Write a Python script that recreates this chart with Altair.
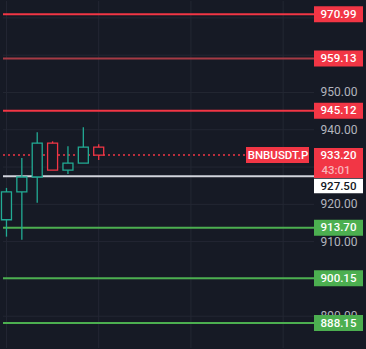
import altair as alt
import pandas as pd

# ---- data ----
candle_idx = [0, 1, 2, 3, 4, 5, 6]
opens  = [915.87, 923.33, 927.33, 936.40, 929.20, 931.07, 935.33]
highs  = [924.40, 932.40, 939.33, 936.90, 935.60, 940.67, 936.13]
lows   = [911.33, 910.53, 920.40, 929.20, 928.13, 931.07, 931.87]
closes = [923.33, 927.33, 936.40, 929.20, 931.07, 935.33, 933.20]

level_values = [970.99, 959.13, 945.12, 927.50, 913.70, 900.15, 888.15]
level_colors = ["#f23645", "#a53a45", "#f23645", "#d1d4dc", "#4caf50", "#4caf50", "#4caf50"]
box_colors   = ["#f23645", "#f23645", "#f23645", "#ffffff", "#4caf50", "#4caf50", "#4caf50"]
box_text_col = ["#ffffff", "#ffffff", "#ffffff", "#131722", "#ffffff", "#ffffff", "#ffffff"]

grid_values = [970, 960, 950, 940, 930, 920, 910, 900, 890]
tick_labels_shown = [950, 940, 920, 910, 890]
vgrid_idx = [0, 6, 12, 18]

last_price = 933.20
symbol = "BNBUSDT.P"
countdown = "43:01"

BG = "#161a25"
GRID = "#232733"
UP = "#22ab94"
DOWN = "#f23645"
FS = 11.5

xs = alt.Scale(domain=[-0.226, 23.39], nice=False, zero=False, padding=0)
ys = alt.Scale(domain=[881.47, 974.53], nice=False, zero=False, padding=0)

candles = pd.DataFrame({"i": candle_idx, "open": opens, "high": highs, "low": lows, "close": closes})
candles["lo_b"] = candles[["open", "close"]].min(axis=1)
candles["hi_b"] = candles[["open", "close"]].max(axis=1)
candles["dir"] = ["up" if c >= o else "down" for o, c in zip(opens, closes)]

levels = pd.DataFrame({"v": level_values, "c": level_colors, "bc": box_colors, "tc": box_text_col})
levels["label"] = [f"{v:.2f}" for v in level_values]
grid = pd.DataFrame({"v": grid_values})
ticks = pd.DataFrame({"v": tick_labels_shown, "label": [f"{v:.2f}" for v in tick_labels_shown]})
vgrid = pd.DataFrame({"i": vgrid_idx})
lastdf = pd.DataFrame({"v": [last_price], "sym": [symbol], "p": [f"{last_price:.2f}"], "cd": [countdown]})

dir_scale = alt.Scale(domain=["up", "down"], range=[UP, DOWN])

vg = alt.Chart(vgrid).mark_rule(color=GRID, strokeWidth=1).encode(
    x=alt.X("i:Q", scale=xs, axis=None))
hg = alt.Chart(grid).mark_rule(color=GRID, strokeWidth=1).encode(
    y=alt.Y("v:Q", scale=ys, axis=None), x=alt.value(0), x2=alt.value(311))

tick_text = alt.Chart(ticks).mark_text(color="#b2b5be", font="Roboto", fontSize=12,
                                       align="center", baseline="middle").encode(
    y=alt.Y("v:Q", scale=ys, axis=None), x=alt.value(336), text="label:N")

lines = alt.Chart(levels).mark_rule(strokeWidth=2).encode(
    y=alt.Y("v:Q", scale=ys, axis=None), x=alt.value(0), x2=alt.value(311),
    color=alt.Color("c:N", scale=None))

dotted = alt.Chart(lastdf).mark_rule(color=DOWN, strokeWidth=1.5, strokeDash=[2, 3]).encode(
    y=alt.Y("v:Q", scale=ys, axis=None), x=alt.value(0), x2=alt.value(243))

wicks = alt.Chart(candles).mark_rule(strokeWidth=1.3).encode(
    x=alt.X("i:Q", scale=xs, axis=None),
    y=alt.Y("low:Q", scale=ys, axis=None), y2="high:Q",
    color=alt.Color("dir:N", scale=dir_scale, legend=None))

bodies = alt.Chart(candles).mark_bar(size=10, fill=BG, strokeWidth=1.3).encode(
    x=alt.X("i:Q", scale=xs, axis=None),
    y=alt.Y("lo_b:Q", scale=ys, axis=None), y2="hi_b:Q",
    stroke=alt.Stroke("dir:N", scale=dir_scale, legend=None))

boxes = alt.Chart(levels).transform_filter("datum.v != 927.5").mark_rect(yOffset=-8, y2Offset=8).encode(
    y=alt.Y("v:Q", scale=ys, axis=None), y2="v:Q", x=alt.value(311), x2=alt.value(360),
    color=alt.Color("bc:N", scale=None))
box_txt = alt.Chart(levels).transform_filter("datum.v != 927.5").mark_text(
    font="Roboto", fontSize=FS, fontWeight=500, align="center", baseline="middle", dy=0.5).encode(
    y=alt.Y("v:Q", scale=ys, axis=None), x=alt.value(335.5), text="label:N",
    color=alt.Color("tc:N", scale=None))

last_box = alt.Chart(lastdf).mark_rect(color=DOWN, yOffset=-7, y2Offset=23).encode(
    y=alt.Y("v:Q", scale=ys, axis=None), y2="v:Q", x=alt.value(311), x2=alt.value(360))
sym_box = alt.Chart(lastdf).mark_rect(color=DOWN, yOffset=-8, y2Offset=8).encode(
    y=alt.Y("v:Q", scale=ys, axis=None), y2="v:Q", x=alt.value(243), x2=alt.value(306))
sym_txt = alt.Chart(lastdf).mark_text(font="Roboto", fontSize=FS, fontWeight=500, color="#ffffff",
                                      align="center", baseline="middle", dy=0.5).encode(
    y=alt.Y("v:Q", scale=ys, axis=None), x=alt.value(275), text="sym:N")
price_txt = alt.Chart(lastdf).mark_text(font="Roboto", fontSize=FS, fontWeight=500, color="#ffffff",
                                        align="center", baseline="middle", dy=0.5).encode(
    y=alt.Y("v:Q", scale=ys, axis=None), x=alt.value(335.5), text="p:N")
cd_txt = alt.Chart(lastdf).mark_text(font="Roboto", fontSize=FS, fontWeight=500, color="#f9b3b9",
                                     align="center", baseline="middle", dy=16).encode(
    y=alt.Y("v:Q", scale=ys, axis=None), x=alt.value(333), text="cd:N")

wl = levels[levels["v"] == 927.5]
white_box = alt.Chart(wl).mark_rect(color="#ffffff", yOffset=2.5, y2Offset=17).encode(
    y=alt.Y("v:Q", scale=ys, axis=None), y2="v:Q", x=alt.value(311), x2=alt.value(360))
white_txt = alt.Chart(wl).mark_text(font="Roboto", fontSize=FS, fontWeight=500, color="#131722",
                                    align="center", baseline="middle", dy=10.5).encode(
    y=alt.Y("v:Q", scale=ys, axis=None), x=alt.value(335.5), text="label:N")

chart = alt.layer(
    vg, hg, tick_text, lines, dotted, wicks, bodies,
    boxes, box_txt, last_box, sym_box, sym_txt, price_txt, cd_txt, white_box, white_txt
).properties(
    width=366, height=349, background=BG, padding=0,
    autosize=alt.AutoSizeParams(type="fit", contains="padding")
).configure_view(stroke=None, fill=BG)

chart.save("out.html", embed_options={"renderer": "svg", "actions": False})
